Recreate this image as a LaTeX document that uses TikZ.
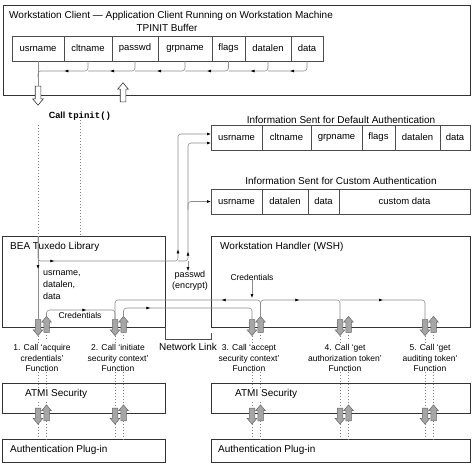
\documentclass[tikz,border=0pt]{standalone}
\usepackage{fontspec}
\setmainfont{Liberation Sans}
\newfontfamily\monofont{Liberation Mono}
\usetikzlibrary{calc}
\usetikzlibrary{arrows.meta}
\usetikzlibrary{shapes.arrows}
\usetikzlibrary{decorations.markings}

\tikzset{
    box/.style={draw=black!80,line width=0.8pt,inner sep=0pt,outer sep=0pt,anchor=north west},
    cell/.style={draw=black!70,line width=0.6pt,minimum height=25pt,inner sep=0pt,outer sep=0pt,anchor=north west,font=\fontsize{9.5}{11}\selectfont},
    blk/.style={single arrow,draw=black!60,fill=black!35,line width=0.5pt,minimum height=16pt,inner sep=2.5pt,single arrow head extend=2pt,single arrow tip angle=80,outer sep=0pt},
    hollow/.style={single arrow,draw=black!80,fill=white,line width=0.6pt,minimum height=19pt,inner sep=2.5pt,single arrow head extend=2.5pt,single arrow tip angle=80,outer sep=0pt},
    wire/.style={draw=black!45,line width=0.6pt,rounded corners=3pt},
    tipto/.style={-{Latex[length=4pt,width=3pt,color=black]}},
    arrowat/.style={postaction={decorate,decoration={markings,mark=at position #1 with {\arrow{Latex[length=4pt,width=3pt,color=black]}}}}},
    dots/.style={draw=black!50,line width=0.6pt,dash pattern=on 0.7pt off 2.3pt},
    title/.style={inner sep=0pt,font=\fontsize{10}{12}\selectfont},
    callname/.style={align=center,inner sep=0pt,font=\fontsize{8.5}{10.3}\selectfont}
}

\begin{document}
\begin{tikzpicture}[x=1pt,y=-1pt,>=Latex]
    \useasboundingbox (0,0) rectangle (474,475);

    % client side
    \node[box,minimum width=467pt,minimum height=90pt] (wsc) at (3,5) {};
    \node[title,anchor=west] (wsct) at (9,16) {Workstation Client --- Application Client Running on Workstation Machine};
    \node[title] (tpt) at (167,28) {TPINIT Buffer};
    \node[cell,minimum width=52pt] (usr1) at (12,36) {usrname};
    \node[cell,minimum width=48pt] (clt1) at (usr1.north east) {cltname};
    \node[cell,minimum width=46pt] (pwd1) at (clt1.north east) {passwd};
    \node[cell,minimum width=54pt] (grp1) at (pwd1.north east) {grpname};
    \node[cell,minimum width=33pt] (flg1) at (grp1.north east) {flags};
    \node[cell,minimum width=46pt] (dln1) at (flg1.north east) {datalen};
    \node[cell,minimum width=32pt] (dat1) at (dln1.north east) {data};

    \foreach \a/\b in {dat1/dln1,dln1/flg1,flg1/grp1,grp1/pwd1,pwd1/clt1}
        \draw[wire,arrowat=-22pt] (\a.south) |- ($(\b.south)+(0,10)$);
    \draw[wire,arrowat=-31pt] (clt1.south) |- ($(usr1.south)+(0,10)$) -- ($(usr1.south)+(0,16)$);

    \node[hollow,rotate=-90] (tpd) at (38,94) {};
    \node[hollow,rotate=90] (tpu) at (123,94) {};
    \draw[wire] (usr1.south) -- (tpd.tail);
    \node[inner sep=0pt,font=\fontsize{9}{10}\selectfont] (call) at (80,116) {\textbf{Call} {\monofont\bfseries tpinit()}};

    % sent information
    \node[title] (dft) at (341,120) {Information Sent for Default Authentication};
    \node[cell,minimum width=51pt] (dfl1) at (211,125) {usrname};
    \node[cell,minimum width=49pt] (dfl2) at (dfl1.north east) {cltname};
    \node[cell,minimum width=51pt] (dfl3) at (dfl2.north east) {grpname};
    \node[cell,minimum width=33pt] (dfl4) at (dfl3.north east) {flags};
    \node[cell,minimum width=45pt] (dfl5) at (dfl4.north east) {datalen};
    \node[cell,minimum width=30pt] (dfl6) at (dfl5.north east) {data};

    \node[title] (cst) at (341,181) {Information Sent for Custom Authentication};
    \node[cell,minimum width=51pt] (cus1) at (211,189) {usrname};
    \node[cell,minimum width=46pt] (cus2) at (cus1.north east) {datalen};
    \node[cell,minimum width=31pt] (cus3) at (cus2.north east) {data};
    \node[cell,minimum width=131pt] (cus4) at (cus3.north east) {custom data};

    % library and handler
    \node[box,minimum width=163pt,minimum height=91pt] (bea) at (2,236) {};
    \node[title,anchor=west] (beat) at (10,247) {BEA Tuxedo Library};
    \node[box,minimum width=259pt,minimum height=91pt] (wsh) at (211,236) {};
    \node[title,anchor=west] (wsht) at (220,247) {Workstation Handler (WSH)};

    \node[callname,anchor=north west,align=left,font=\fontsize{9}{12}\selectfont] (udd) at (43,270) {usrname,\\datalen,\\data};
    \node[callname,font=\fontsize{9}{11}\selectfont] (pwd) at (190,281) {passwd\\(encrypt)};
    \node[callname] (credB) at (80,315) {Credentials};
    \node[callname] (credW) at (252,277) {Credentials};

    \foreach \p/\x in {1/38,2/115,3/252,4/340,5/425}{
        \node[blk,rotate=-90] (d\p) at (\x,326) {};
        \node[blk,rotate=90] (u\p) at (\x+8.5,326) {};
    }

    \coordinate (s1) at (38,261);
    \coordinate (v1) at (178,134);
    \coordinate (v2) at (188,143);
    \coordinate (y310) at (0,310);
    \coordinate (y308) at (0,308);
    \coordinate (y300) at (0,300);

    \draw[dots] ($(tpd.tip)+(0,20)$) -- (tpd.tip |- bea.north);
    \draw[dots] (call.south) -- (call.south |- bea.north);

    \draw[wire,arrowat=33pt] (bea.north -| d1.tail) -- (d1.tail);
    \draw[wire,tipto,arrowat=40pt,arrowat=174pt] (bea.north -| s1) -- (s1) -- (s1 -| v1) -- (v1) -- (dfl1.west |- v1);
    \draw[wire,tipto,arrowat=18pt] (s1 -| v1) -- (s1 -| v2) -- (v2) -- (dfl1.west |- v2);
    \draw[wire,tipto] ($(cus1.west -| v2)+(0,8)$) |- (cus1.west);
    \draw[wire,tipto] (s1 -| v2) -- (pwd.north -| v2);

    \draw[wire,arrowat=45pt] (u1.tip) -- (u1.tip |- y310) -- (d2.tail |- y310) -- (d2.tail);
    \draw[wire,arrowat=34pt] (u2.tip) -- (u2.tip |- y308) -- (d3.tail |- y308) -- (d3.tail);
    \draw[wire,arrowat=54pt] (u3.tip) -- (u3.tip |- y300) -- (d2.tail |- y300) -- (d2.tail);
    \draw[wire,arrowat=54pt] (u3.tip) -- (u3.tip |- y300) -- (d4.tail |- y300) -- (d4.tail);
    \draw[wire,arrowat=43pt] (d4.tail |- y300) -- (d5.tail |- y300) -- (d5.tail);
    \draw[wire,tipto] (credW.south) -- ($(credW.south |- y300)+(0,-2)$);

    % network link
    \draw[draw=black!70,line width=0.6pt] (bea.south east) -- ++(0,12) -| ($(wsh.south west)+(0,6)$);
    \node[title] (net) at (188,347) {Network Link};

    \node[callname] (lab1) at (42,358) {1. Call `acquire\\credentials'\\Function};
    \node[callname] (lab2) at (118,358) {2. Call `initiate\\security context'\\Function};
    \node[callname] (lab3) at (249,358) {3. Call `accept\\security context'\\Function};
    \node[callname] (lab4) at (345,358) {4. Call `get\\authorization token'\\Function};
    \node[callname] (lab5) at (430,358) {5. Call `get\\auditing token'\\Function};

    % security layers
    \node[box,minimum width=163pt,minimum height=30pt] (atmL) at (2,383) {};
    \node[box,minimum width=259pt,minimum height=30pt] (atmR) at (211,383) {};
    \node[box,minimum width=163pt,minimum height=23pt] (plgL) at (2,439) {};
    \node[box,minimum width=259pt,minimum height=23pt] (plgR) at (211,439) {};

    \foreach \p in {1,...,5}{
        \node[blk,rotate=-90] (ad\p) at (d\p |- 0,414.5) {};
        \node[blk,rotate=90] (au\p) at (u\p |- 0,414.5) {};
        \draw[dots] (d\p.tip) -- ++(0,7);
        \draw[dots] (u\p.tail) -- ++(0,7);
        \draw[dots] (lab\p.south -| d\p) -- (ad\p.tail);
        \draw[dots] (lab\p.south -| u\p) -- (au\p.tip);
        \draw[dots] (ad\p.tip) -- (ad\p.tip |- plgL.north);
        \draw[dots] (au\p.tail) -- (au\p.tail |- plgL.north);
    }

    \node[title,anchor=west,fill=white,inner sep=1pt] (atmLt) at (24,394) {ATMI Security};
    \node[title,anchor=west,fill=white,inner sep=1pt] (atmRt) at (234,394) {ATMI Security};
    \node[title,anchor=west] (plgLt) at (10,450) {Authentication Plug-in};
    \node[title,anchor=west] (plgRt) at (218,450) {Authentication Plug-in};
\end{tikzpicture}
\end{document}
